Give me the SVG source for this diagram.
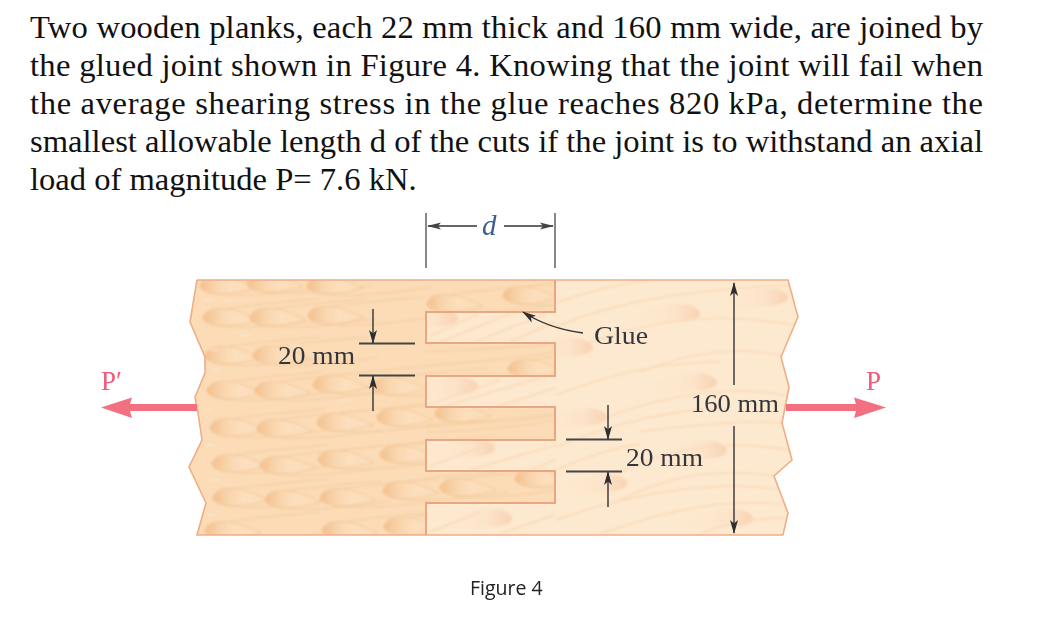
<svg xmlns="http://www.w3.org/2000/svg" xmlns:xlink="http://www.w3.org/1999/xlink" width="1042" height="626" viewBox="0 0 1042 626">
<defs>
<linearGradient id="fishL" x1="0" x2="1" y1="0" y2="0"><stop offset="0" stop-color="#f3c08e"/><stop offset=".3" stop-color="#f9d6ae"/><stop offset=".55" stop-color="#fcdfbd"/><stop offset="1" stop-color="#fbdcb7"/></linearGradient>
<linearGradient id="lensR" x1="0" x2="1" y1="0" y2="0"><stop offset="0" stop-color="#fde9cf" stop-opacity="0"/><stop offset=".7" stop-color="#fce2c8"/><stop offset="1" stop-color="#f8d2b2"/></linearGradient>
<g id="fish">
<path d="M0,0 C3,-9 15,-10 30,-7 C38,-5 45,-2 56,3 C40,8 20,10 10,8 C3,6 -1,3 0,0Z" fill="url(#fishL)" stroke="#f4c899" stroke-width="1"/>
<path d="M24,-8.5 C50,-12 80,-15 115,-18 M14,9 C45,12 80,9 125,2" fill="none" stroke="#f5cb9e" stroke-width="1"/>
</g>
<path id="lens" d="M0,6 C15,-2 35,-9 52,-9 C64,-9 72,-4 72,1 C70,8 52,10 30,10 C18,10 8,8 0,6Z" fill="url(#lensR)"/>
<clipPath id="clipLeft"><path d="M197,280H555V312H426V343H555V376H426V407H555V440H426V471H555V503H426V535H197L206,503L189,467L202,440L198,413L195,397L205,373L205,357L190,322Z"/></clipPath>
<clipPath id="clipRight"><path d="M555,280H788L798,317L781,357L789,387L782,423L792,460L774,476L788,513L783,535H426V503H555V471H426V440H555V407H426V376H555V343H426V312H555Z"/></clipPath>
<filter id="soft" x="-5%" y="-5%" width="110%" height="110%"><feGaussianBlur stdDeviation="0.8"/></filter>
<marker id="ah" markerWidth="14" markerHeight="10" refX="13" refY="5" orient="auto" markerUnits="userSpaceOnUse"><path d="M0,1L14,5L0,9L3.5,5Z" fill="#2e2e2e"/></marker>
<marker id="ahg" markerWidth="14" markerHeight="8" refX="13" refY="4" orient="auto" markerUnits="userSpaceOnUse"><path d="M0,0.5L14,4L0,7.5L3,4Z" fill="#444"/></marker>
</defs>
<style>
.q{font-family:"Liberation Serif","Times New Roman",serif;font-size:32.6px;fill:#111}
.cm{font-family:"Liberation Serif","Times New Roman",serif;font-size:26px;fill:#33373d}
.pk{font-family:"Liberation Serif","Times New Roman",serif;font-size:27px;fill:#ee5c78}
.dim{stroke:#333;stroke-width:1.4;fill:none}
.tick{stroke:#444;stroke-width:1.8;fill:none}
.ext{stroke:#7c7c7c;stroke-width:1.8;fill:none}
.gr{stroke:#fad9b8;stroke-width:1.4;fill:none}
.gl{stroke:#f5cb9e;stroke-width:1;fill:none}
.sp{stroke:#fdeeda;stroke-width:1.2;fill:none}
.edge{fill:none;stroke:#eeae86;stroke-width:1.6;stroke-linejoin:miter}
.finger{fill:none;stroke:#e9a683;stroke-width:2}
.force{stroke:#f2707f;stroke-width:7;fill:none}
.head{fill:#f2707f}
</style>

<g id="problem-text">
<text class="q" x="30" y="38" textLength="953">Two wooden planks, each 22 mm thick and 160 mm wide, are joined by</text>
<text class="q" x="30" y="76" textLength="953">the glued joint shown in Figure 4. Knowing that the joint will fail when</text>
<text class="q" x="30" y="114" textLength="953">the average shearing stress in the glue reaches 820 kPa, determine the</text>
<text class="q" x="30" y="152" textLength="953">smallest allowable length d of the cuts if the joint is to withstand an axial</text>
<text class="q" x="30" y="190">load of magnitude P= 7.6 kN.</text>
</g>

<g id="right-plank">
<path d="M555,280H788L798,317L781,357L789,387L782,423L792,460L774,476L788,513L783,535H426V503H555V471H426V440H555V407H426V376H555V343H426V312H555Z" fill="#fde9cf"/>
<g clip-path="url(#clipRight)"><g filter="url(#soft)">
<use xlink:href="#lens" x="716" y="297"/>
<use xlink:href="#lens" x="628" y="313"/>
<use xlink:href="#lens" x="521" y="347"/>
<use xlink:href="#lens" x="645" y="382"/>
<use xlink:href="#lens" x="535" y="417"/>
<use xlink:href="#lens" x="655" y="450"/>
<use xlink:href="#lens" x="555" y="483"/>
<use xlink:href="#lens" x="681" y="518"/>
<use xlink:href="#lens" x="386" y="318"/>
<use xlink:href="#lens" x="406" y="386"/>
<use xlink:href="#lens" x="423" y="448"/>
<use xlink:href="#lens" x="440" y="518"/>
<path class="gr" d="M556,303C590,290 620,284 650,280M556,327C620,300 690,290 790,285M590,342C660,318 720,312 795,325M640,372C690,352 740,345 788,357M556,395C620,370 670,362 720,362M600,420C660,395 730,385 785,395M640,432C690,425 740,420 782,423M556,447C620,420 680,410 720,408M620,472C680,445 730,440 790,450M620,500C680,470 730,470 775,476M556,520C640,490 720,480 785,490M600,534C680,505 740,498 786,505M700,534C730,522 760,518 784,518M556,470C590,455 615,448 640,444"/>
<path class="gr" d="M430,336L478,314M440,342L510,314M475,342L545,314M510,342L555,322M430,404L500,380M445,406L540,378M500,406L555,388M430,466L490,444M470,470L555,445M530,470L555,460M430,532L480,512M500,534L555,515"/>
</g></g>
<path class="edge" d="M555,280H788L798,317L781,357L789,387L782,423L792,460L774,476L788,513L783,535H426"/>
</g>

<g id="left-plank">
<path d="M197,280H555V312H426V343H555V376H426V407H555V440H426V471H555V503H426V535H197L206,503L189,467L202,440L198,413L195,397L205,373L205,357L190,322Z" fill="#fbdcb7"/>
<g clip-path="url(#clipLeft)"><g filter="url(#soft)">
<use xlink:href="#fish" x="200" y="285"/><use xlink:href="#fish" x="247" y="283"/><use xlink:href="#fish" x="307" y="285"/>
<use xlink:href="#fish" x="427" y="303"/><use xlink:href="#fish" x="503" y="295"/>
<use xlink:href="#fish" x="203" y="317"/><use xlink:href="#fish" x="250" y="317"/><use xlink:href="#fish" x="308" y="315"/>
<use xlink:href="#fish" x="205" y="355"/><use xlink:href="#fish" x="253" y="355"/><use xlink:href="#fish" x="508" y="368"/>
<use xlink:href="#fish" x="207" y="390"/><use xlink:href="#fish" x="255" y="390"/><use xlink:href="#fish" x="313" y="384"/><use xlink:href="#fish" x="372" y="386"/>
<use xlink:href="#fish" x="210" y="427"/><use xlink:href="#fish" x="257" y="428"/><use xlink:href="#fish" x="317" y="422"/><use xlink:href="#fish" x="377" y="417"/><use xlink:href="#fish" x="435" y="413"/>
<use xlink:href="#fish" x="212" y="463"/><use xlink:href="#fish" x="260" y="465"/><use xlink:href="#fish" x="318" y="459"/><use xlink:href="#fish" x="380" y="454"/><use xlink:href="#fish" x="515" y="478"/>
<use xlink:href="#fish" x="213" y="497"/><use xlink:href="#fish" x="265" y="499"/><use xlink:href="#fish" x="320" y="497"/><use xlink:href="#fish" x="383" y="490"/><use xlink:href="#fish" x="440" y="487"/>
<use xlink:href="#fish" x="205" y="530"/><use xlink:href="#fish" x="322" y="530"/><use xlink:href="#fish" x="384" y="526"/>
<path class="gl" d="M426,352C470,350 520,347 555,343M426,366C470,362 520,358 555,352M426,432C480,430 530,426 555,420M426,425C470,422 520,418 555,414"/>
<path class="sp" d="M205,300h10M210,350h8M225,300h8M212,370h8M240,335h10M205,410h6M205,445h8M210,480h10M207,515h8M290,345h10M340,400h10"/>
</g></g>
<path class="edge" d="M197,280H555M197,280L190,322L205,357L205,373L195,397L198,413L202,440L189,467L206,503L197,535H426"/>
<path class="finger" d="M555,280V312H426V343H555V376H426V407H555V440H426V471H555V503H426V535"/>
</g>

<g id="connectors">
<path class="ext" d="M426,213V268M555,213V268"/>
<path class="dim" stroke="#444" d="M477,226H428" marker-end="url(#ahg)"/>
<path class="dim" stroke="#444" d="M504,226H553" marker-end="url(#ahg)"/>
<path class="tick" d="M359,343.5H415M359,375.5H415M566,439.5H622M566,471.5H622"/>
<path class="dim" d="M373,309V343" marker-end="url(#ah)"/>
<path class="dim" d="M373,411V376" marker-end="url(#ah)"/>
<path class="dim" d="M608,405V439" marker-end="url(#ah)"/>
<path class="dim" d="M608,507V472" marker-end="url(#ah)"/>
<path class="dim" d="M734,385V283" marker-end="url(#ah)"/>
<path class="dim" d="M734,426V533" marker-end="url(#ah)"/>
<path class="dim" d="M583,333C560,330 540,323 523,312" marker-end="url(#ah)"/>
<path class="force" d="M197,407.5H118"/>
<path class="head" d="M101,407.5L132,397.5L129,407.5L132,418Z"/>
<path class="force" d="M786,407.5H860"/>
<path class="head" d="M886,407.5L854,397.5L857,407.5L854,418Z"/>
</g>

<g id="labels">
<text x="482" y="235" font-family="Liberation Serif, serif" font-style="italic" font-size="29" fill="#3a5f8f">d</text>
<text class="cm" x="278" y="364" textLength="77" lengthAdjust="spacingAndGlyphs">20 mm</text>
<text class="cm" x="626" y="466" textLength="77" lengthAdjust="spacingAndGlyphs">20 mm</text>
<text class="cm" x="691" y="412" textLength="88" lengthAdjust="spacingAndGlyphs">160 mm</text>
<text class="cm" x="594" y="344" textLength="54" lengthAdjust="spacingAndGlyphs">Glue</text>
<text class="pk" x="101" y="390">P′</text>
<text class="pk" x="866" y="390">P</text>
<text x="470" y="595" font-family="Open Sans, Noto Sans, sans-serif" font-size="19.5" fill="#222">Figure 4</text>
</g>
</svg>
